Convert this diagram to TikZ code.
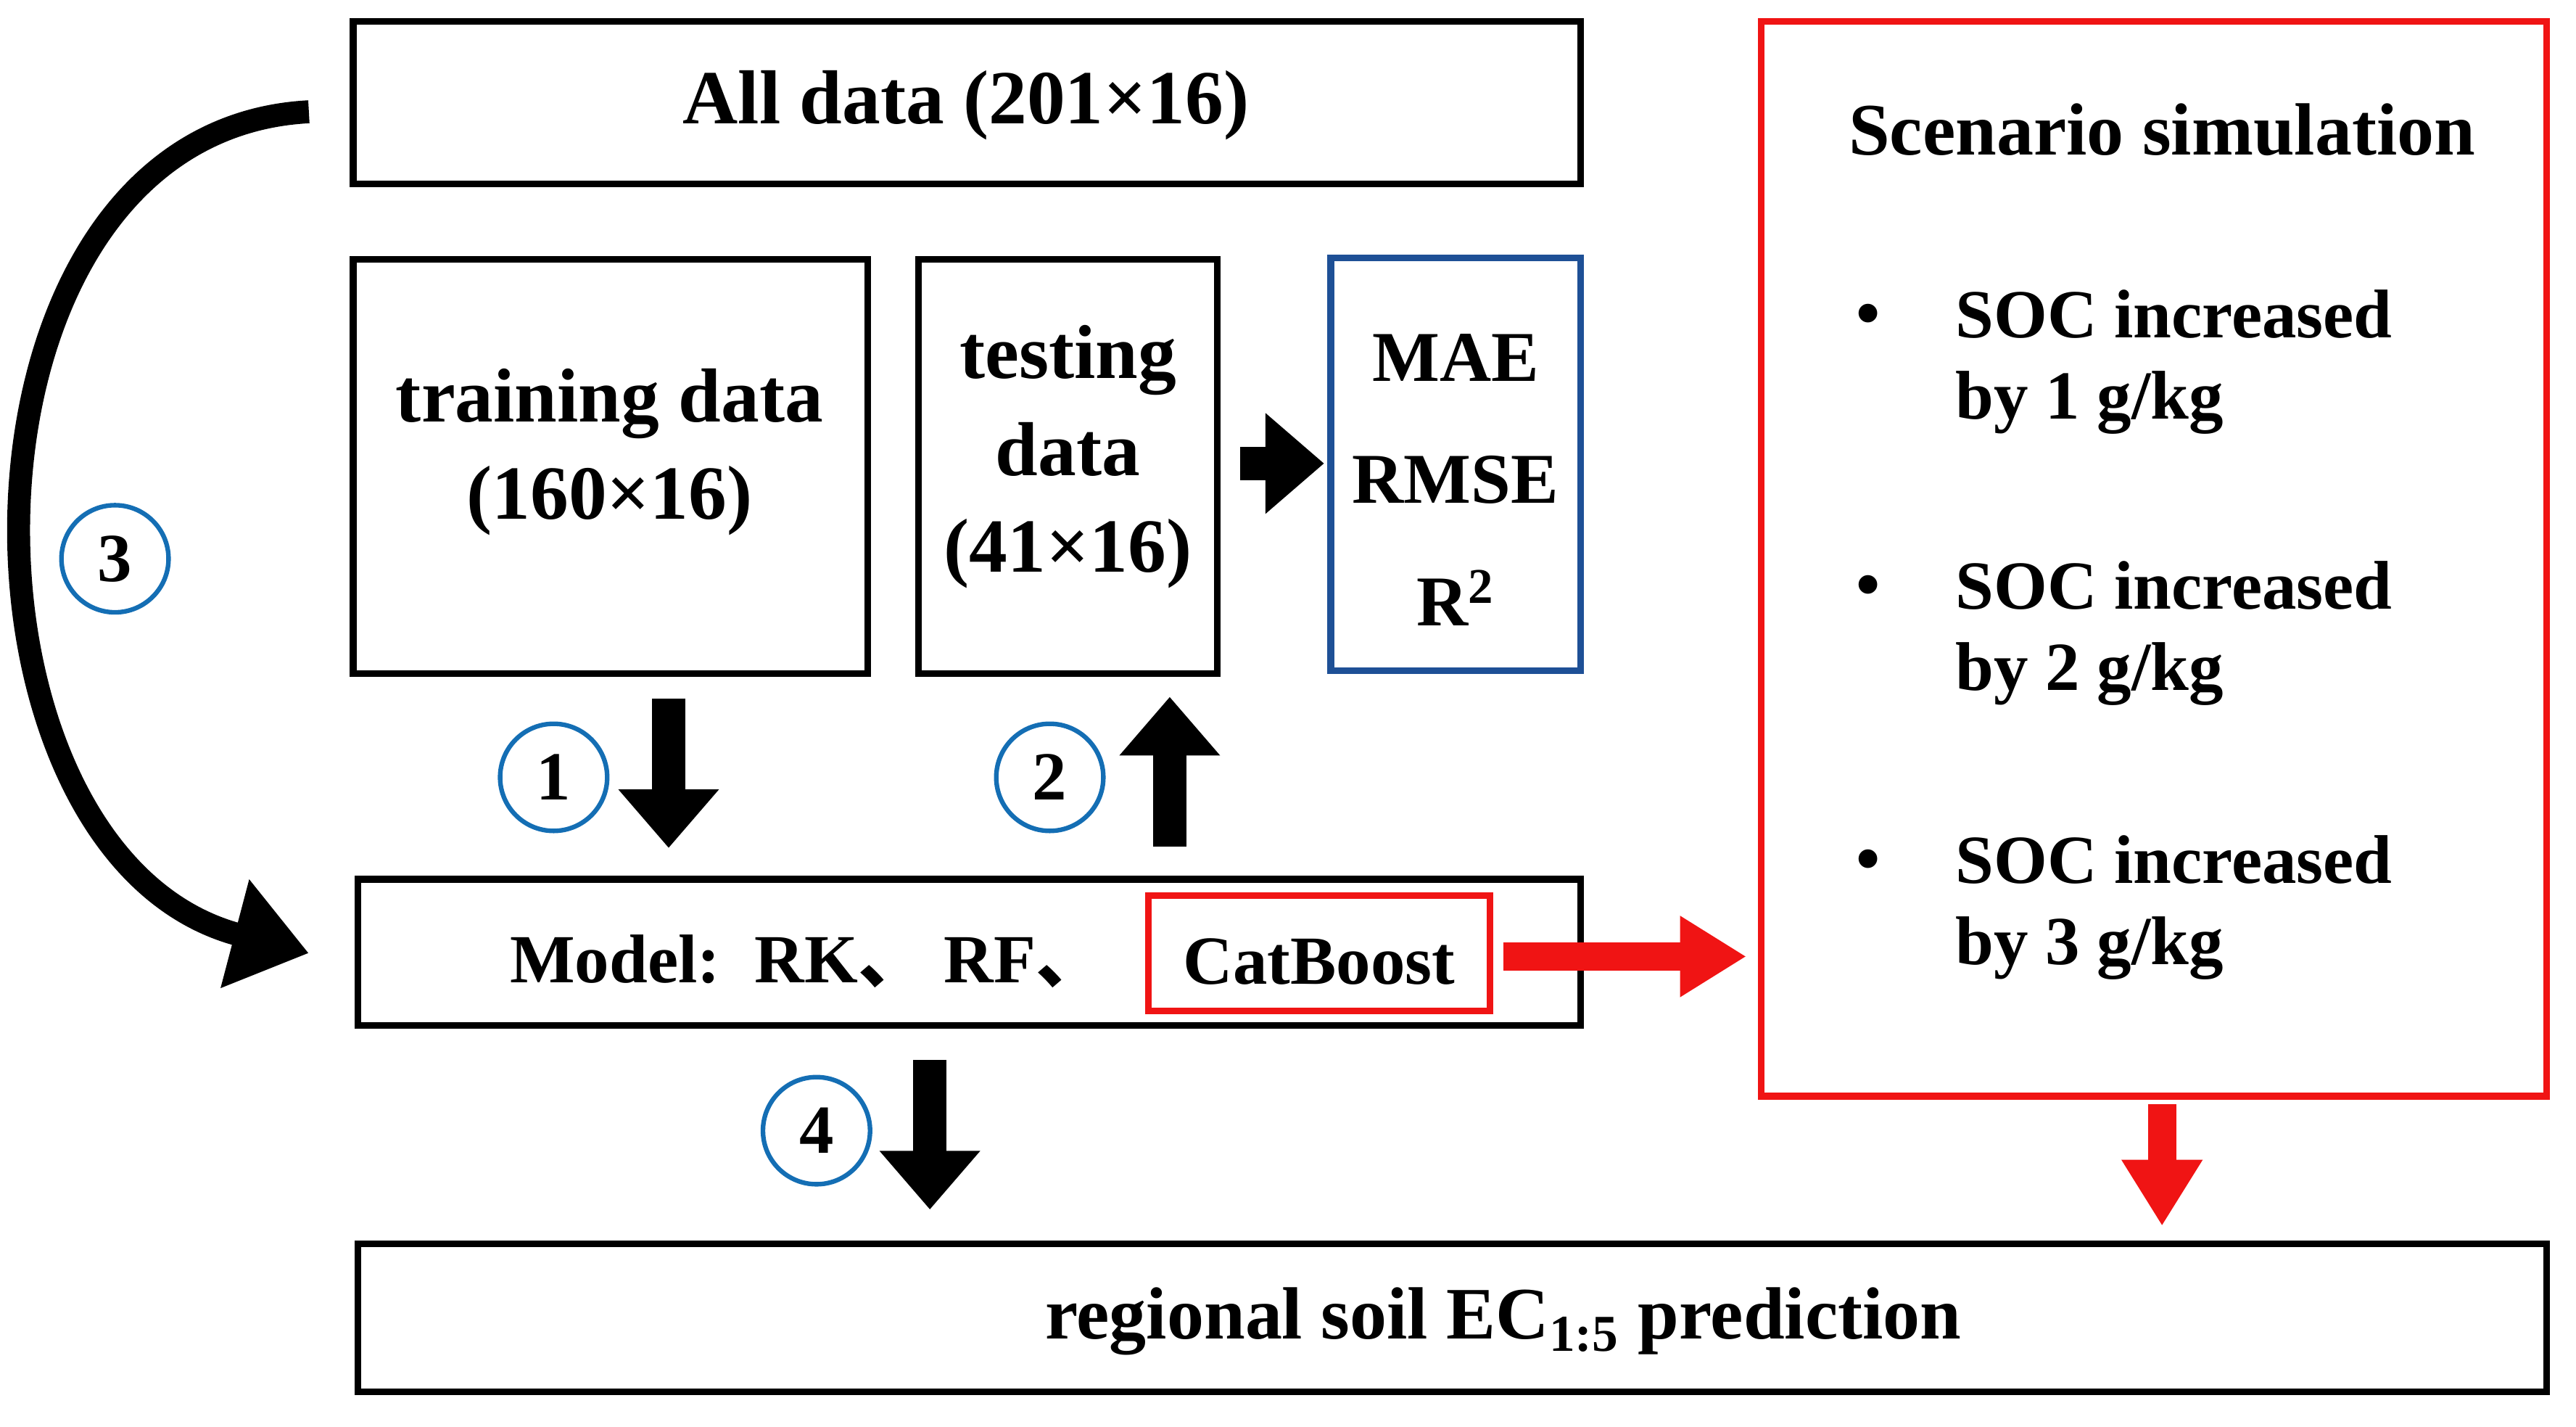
\documentclass[tikz,border=0pt]{standalone}
\usepackage{fontspec}
\setmainfont{Liberation Serif}
\newfontfamily\cjk{Noto Sans CJK SC}
\usetikzlibrary{arrows.meta}
\definecolor{cblue}{RGB}{20,110,180}
\definecolor{bblue}{RGB}{30,80,150}
\definecolor{sred}{RGB}{240,20,20}
\begin{document}
\begin{tikzpicture}[x=0.02265cm,y=-0.02265cm,
  box/.style={draw,line width=2.6pt,inner sep=0pt},
  big/.style={font=\fontsize{30}{38}\selectfont\bfseries},
  num/.style={draw=cblue,line width=1.8pt,circle,minimum size=42pt,inner sep=0pt,font=\fontsize{27}{30}\selectfont\bfseries},
  blk/.style={line width=13pt,-{Triangle[length=23pt 0 0,width=38pt 0 0]}},
  rblk/.style={line width=11pt,sred,-{Triangle[length=26pt 0 0,width=30pt 0 0]}}]
\useasboundingbox (0,0) rectangle (1568,868);
% boxes
\draw[box] (215,13) rectangle (962,112);
\node[big] (all) at (588,64) {All data (201×16)};
\draw[box] (215,158) rectangle (528,410);
\node[big,align=center] (train) at (371,275) {training data\\(160×16)};
\draw[box] (559,158) rectangle (741,410);
\node[big,align=center] (test) at (650,278) {testing\\data\\(41×16)};
\draw[box,draw=bblue] (810,157) rectangle (962,408);
\node[big,align=center,font=\fontsize{28}{48}\selectfont\bfseries] (met) at (886,292) {MAE\\RMSE\\R\textsuperscript{2}};
\draw[box,draw=sred] (1072,13) rectangle (1550,667);
\node[big,font=\fontsize{29}{36}\selectfont\bfseries] (scen) at (1316,79) {Scenario simulation};
\foreach \y/\n in {195/1,360/2,527/3}{
  \node[big,font=\fontsize{27}{32}\selectfont\bfseries] at (1137,\y) {•};
  \node[big,font=\fontsize{27}{32}\selectfont\bfseries,anchor=north west,align=left,inner sep=0pt] at (1190,\y-19) {SOC increased\\by \n{} g/kg};
}
\draw[box] (218,535) rectangle (962,624);
\node[big,font=\fontsize{27}{32}\selectfont\bfseries,anchor=west] (model) at (305,585) {Model:\ \ RK{\cjk 、}\ RF{\cjk 、}};
\draw[line width=2.6pt,draw=sred] (699,545) rectangle (907,615);
\node[big,font=\fontsize{27}{32}\selectfont\bfseries] (cat) at (803,585) {CatBoost};
\draw[box] (218,757) rectangle (1550,847);
\node[big,font=\fontsize{29}{36}\selectfont\bfseries] (pred) at (915,804) {regional soil EC\textsubscript{1:5} prediction};
% arrows
\draw[blk] (755,282) -- (806,282);
\draw[blk] (407,425) -- (407,516);
\draw[blk] (712,515) -- (712,424);
\draw[blk] (566,645) -- (566,736);
\draw[rblk] (915,582) -- (1063,582);
\draw[rblk] (1316,672) -- (1316,746);
\draw[line width=9pt,-{Triangle[length=30pt 0 0,width=42pt 0 0]}] (188,68) .. controls (-40,80) and (-40,520) .. (188,580);
% circles
\node[num] (c3) at (70,340) {3};
\node[num] (c1) at (337,473) {1};
\node[num] (c2) at (639,473) {2};
\node[num] (c4) at (497,688) {4};
\end{tikzpicture}
\end{document}
